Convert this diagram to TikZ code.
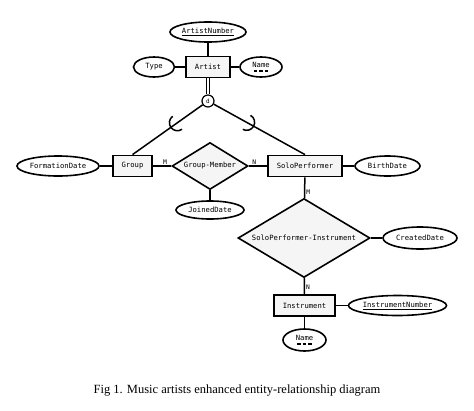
\documentclass[tikz,border=0pt]{standalone}
\usepackage{fontspec}
\setmainfont{Liberation Serif}
\setmonofont{DejaVu Sans Mono}
\usetikzlibrary{shapes.geometric}

% key attributes: solid underline, partial key: dashed
\newcommand{\pkey}[1]{\setbox0\hbox{#1}\rlap{\raisebox{-2.4pt}{\rule{\wd0}{0.9pt}}}\box0}
\newcommand{\partkey}[1]{\setbox0\hbox{#1}\rlap{\hbox to\wd0{\hss\raisebox{-5pt}{\rule{3.6pt}{2.4pt}\hskip1.8pt\rule{3.6pt}{2.4pt}\hskip1.8pt\rule{3.6pt}{2.4pt}}\hss}}\box0}

\tikzset{
  erfont/.style={font=\ttfamily\fontsize{7.2}{8}\selectfont},
  entity/.style={erfont, draw, line width=1.8pt, fill=gray!8, minimum height=21pt, inner xsep=9pt, inner ysep=0pt},
  attrib/.style={erfont, ellipse, draw, line width=1.6pt, fill=white, minimum height=20pt, minimum width=42pt, inner sep=0pt},
  relship/.style={erfont, diamond, draw, line width=1.6pt, fill=gray!8, inner sep=0pt, shape aspect=1.6},
  card/.style={font=\ttfamily\fontsize{6.3}{7}\selectfont, inner sep=1pt},
  link/.style={line width=1.5pt},
}

\begin{document}
\begin{tikzpicture}[x=1pt,y=1pt]
 \useasboundingbox (0,0) rectangle (474,-410);
 % superclass
 \node[entity] (artist) at (208,-67) {Artist};
 \node[attrib, minimum width=76pt] (artnum) at (208,-32) {\pkey{ArtistNumber}};
 \node[attrib, minimum width=41pt] (atype) at (154,-67) {Type};
 \node[attrib] (aname) at (261,-67) {\partkey{Name}};
 \node[circle, draw, line width=1.2pt, fill=white, minimum size=12pt, inner sep=0pt, font=\ttfamily\fontsize{6}{6}\selectfont] (disj) at (208,-101) {d};
 %
 % subclasses
 \node[entity] (group) at (132.5,-166) {Group};
 \node[entity] (solo) at (305,-166) {SoloPerformer};
 \node[attrib, minimum width=82pt] (fdate) at (58,-166) {FormationDate};
 \node[relship, minimum width=76pt, minimum height=47pt] (gm) at (210,-166) {Group-Member};
 \node[attrib, minimum width=68pt, minimum height=18pt] (jdate) at (210,-210) {JoinedDate};
 \node[attrib, minimum width=65pt] (bdate) at (387.5,-166) {BirthDate};
 %
 \node[relship, minimum width=132pt, minimum height=79pt] (spi) at (304,-238) {SoloPerformer-Instrument};
 \node[attrib, minimum width=74pt, minimum height=22pt] (cdate) at (420,-238) {CreatedDate};
 \node[entity] (instr) at (304.5,-305.5) {Instrument};
 \node[attrib, minimum width=97pt] (inum) at (397.5,-305.5) {\pkey{InstrumentNumber}};
 \node[attrib, minimum width=43pt, minimum height=22pt] (iname) at (304.5,-340) {\partkey{Name}};
 %
 % connectors
 \draw[link] (artnum) -- (artist);
 \draw[link] (atype) -- (artist);
 \draw[link] (artist) -- (aname);
 \draw[double, double distance=2pt, line width=0.9pt] (artist) -- (disj);
 \draw[link] (disj) -- (group.north) coordinate[pos=0.36] (lsub);
 \draw[link] (disj) -- (solo.north) coordinate[pos=0.36] (rsub);
 \draw[link] (lsub) ++(125.75:8) arc[start angle=125.75, end angle=305.75, radius=8];
 \draw[link] (rsub) ++(240.9:8) arc[start angle=240.9, end angle=420.9, radius=8];
 %
 \draw[link] (fdate) -- (group);
 \draw[link] (group) -- (gm) node[card, pos=0.65, above] {M};
 \draw[link] (gm) -- (solo) node[card, pos=0.3, above] {N};
 \draw[link] (gm) -- (jdate);
 \draw[link] (solo) -- (bdate);
 \draw[link] (solo) -- (spi) node[card, pos=0.7, right] {M};
 \draw[link] (spi) -- (cdate);
 \draw[link] (spi) -- (instr) node[card, pos=0.55, right] {N};
 \draw[link] (instr) -- (inum);
 \draw[link] (instr) -- (iname);
 %
 \node[font=\fontsize{12.5}{14}\selectfont] (caption) at (237,-391) {Fig 1. Music artists enhanced entity-relationship diagram};
\end{tikzpicture}
\end{document}
